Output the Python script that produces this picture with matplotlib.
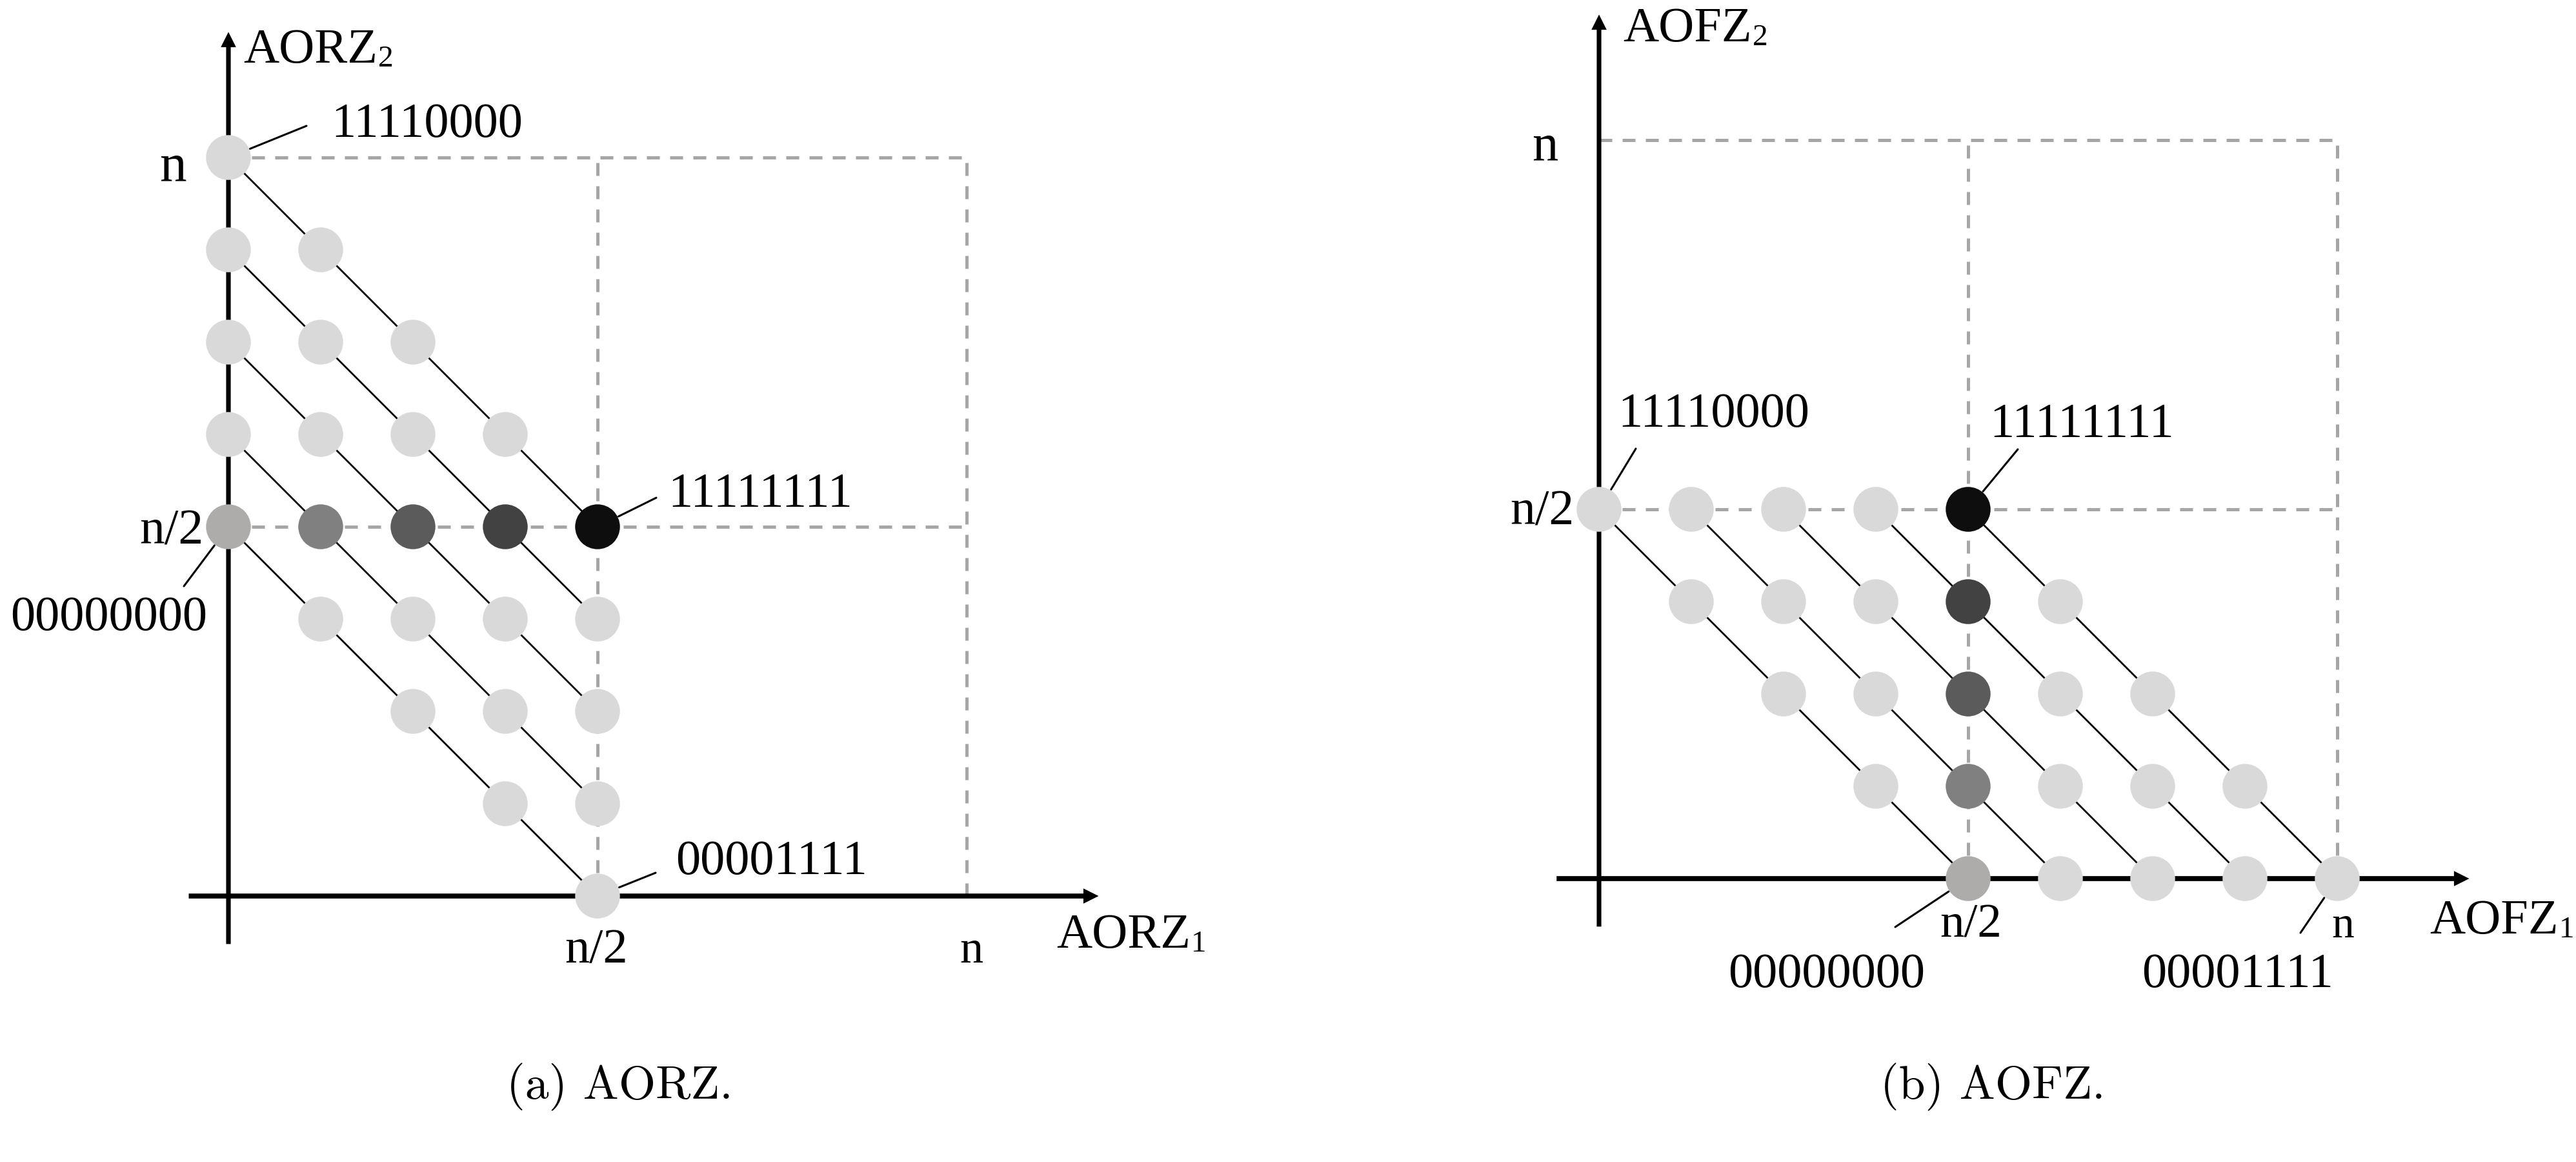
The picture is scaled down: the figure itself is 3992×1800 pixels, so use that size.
import matplotlib.pyplot as plt

# ---------------- data (n = 8 bits) ----------------
N = 8

# (a) AORZ: zone points, shade rank 0 = plain, 1..5 = darker highlight
aorz_x = [0, 0, 1, 0, 1, 2, 0, 1, 2, 3, 0, 1, 2, 3, 4, 1, 2, 3, 4, 2, 3, 4, 3, 4, 4]
aorz_y = [8, 7, 7, 6, 6, 6, 5, 5, 5, 5, 4, 4, 4, 4, 4, 3, 3, 3, 3, 2, 2, 2, 1, 1, 0]
aorz_shade = [0, 0, 0, 0, 0, 0, 0, 0, 0, 0, 1, 2, 3, 4, 5, 0, 0, 0, 0, 0, 0, 0, 0, 0, 0]
aorz_line_x0 = [0, 0, 0, 0, 0]
aorz_line_y0 = [8, 7, 6, 5, 4]
aorz_line_x1 = [4, 4, 4, 4, 4]
aorz_line_y1 = [4, 3, 2, 1, 0]
aorz_tags = ["11110000", "11111111", "00000000", "00001111"]
aorz_tag_x = [0, 4, 0, 4]
aorz_tag_y = [8, 4, 4, 0]

# (b) AOFZ
aofz_x = [0, 1, 2, 3, 4, 1, 2, 3, 4, 5, 2, 3, 4, 5, 6, 3, 4, 5, 6, 7, 4, 5, 6, 7, 8]
aofz_y = [4, 4, 4, 4, 4, 3, 3, 3, 3, 3, 2, 2, 2, 2, 2, 1, 1, 1, 1, 1, 0, 0, 0, 0, 0]
aofz_shade = [0, 0, 0, 0, 5, 0, 0, 0, 4, 0, 0, 0, 3, 0, 0, 0, 2, 0, 0, 0, 1, 0, 0, 0, 0]
aofz_line_x0 = [0, 1, 2, 3, 4]
aofz_line_y0 = [4, 4, 4, 4, 4]
aofz_line_x1 = [4, 5, 6, 7, 8]
aofz_line_y1 = [0, 0, 0, 0, 0]
aofz_tags = ["11110000", "11111111", "00000000", "00001111"]
aofz_tag_x = [0, 4, 4, 8]
aofz_tag_y = [4, 4, 0, 0]

tick_vals = [N / 2, N]
tick_text = ["n/2", "n"]
guide_vals = [N / 2, N]

# ---------------- style / layout ----------------
W, H, DPI = 3992, 1800, 100
U = 143.0  # pixels per unit
SHADES = ["#d9d9d9", "#aeabab", "#808080", "#5b5b5b", "#424242", "#0e0e0e"]
GUIDE = "#a6a6a6"
SERIF = ["Liberation Serif", "DejaVu Serif"]
TAG_FS = 55

plt.rcParams["font.family"] = SERIF

fig = plt.figure(figsize=(W / DPI, H / DPI), dpi=DPI)


def make_axes(origin_px, xlim, ylim):
    ox, oy = origin_px
    left = (ox + xlim[0] * U) / W
    bottom = (H - oy + ylim[0] * U) / H
    ax = fig.add_axes([left, bottom, (xlim[1] - xlim[0]) * U / W, (ylim[1] - ylim[0]) * U / H])
    ax.set_xlim(*xlim)
    ax.set_ylim(*ylim)
    ax.axis("off")
    return ax


def draw_panel(ax, xs, ys, shade, lx0, ly0, lx1, ly1, tags, tx, ty, cfg):
    # dashed guides
    for v in guide_vals:
        ax.plot([0, N], [v, v], color=GUIDE, lw=3.6, ls=(0, (4, 3.2)), zorder=1, clip_on=False)
        ax.plot([v, v], [0, N], color=GUIDE, lw=3.6, ls=(0, (4, 3.2)), zorder=1, clip_on=False)

    # axes with arrows
    x0, x1 = cfg["xaxis"]
    y0, y1 = cfg["yaxis"]
    ax.arrow(x0, 0, x1 - x0, 0, width=0.054, head_width=0.165, head_length=0.165,
             length_includes_head=True, fc="black", ec="none", zorder=2, clip_on=False)
    ax.arrow(0, y0, 0, y1 - y0, width=0.05, head_width=0.165, head_length=0.165,
             length_includes_head=True, fc="black", ec="none", zorder=2, clip_on=False)

    # diagonal iso-lines
    for a, b, c, d in zip(lx0, ly0, lx1, ly1):
        ax.plot([a, c], [b, d], color="black", lw=2.0, zorder=2, clip_on=False)

    # zone points
    ax.scatter(xs, ys, s=50 ** 2, c=[SHADES[k] for k in shade], linewidths=0, zorder=3, clip_on=False)

    # tags with leader lines
    for label, px, py, (lead, txt, ha) in zip(tags, tx, ty, cfg["tags"]):
        ax.annotate("", xy=(px, py), xytext=lead, textcoords="offset pixels",
                    arrowprops=dict(arrowstyle="-", lw=2.2, color="black", shrinkA=0, shrinkB=26))
        ax.annotate(label, xy=(px, py), xytext=txt, textcoords="offset pixels",
                    ha=ha, va="baseline", fontsize=TAG_FS)

    # tick labels
    for v, t, (dx, dy), fs in zip(tick_vals, tick_text, cfg["xticks"], cfg["xtick_fs"]):
        ax.annotate(t, xy=(v, 0), xytext=(dx, dy), textcoords="offset pixels",
                    ha="center", va="baseline", fontsize=fs)
    for v, t, (dx, dy), fs in zip(tick_vals, tick_text, cfg["yticks"], cfg["ytick_fs"]):
        ax.annotate(t, xy=(0, v), xytext=(dx, dy), textcoords="offset pixels",
                    ha="right", va="baseline", fontsize=fs)

    # axis names with subscripts
    for (name, sub), off in zip(cfg["names"], cfg["name_offsets"]):
        main = ax.annotate(name, xy=(0, 0), xytext=off, textcoords="offset pixels",
                           ha="left", va="baseline", fontsize=TAG_FS)
        ax.annotate(sub, xy=(1, 0), xycoords=main, xytext=(1, 10), textcoords="offset pixels",
                    ha="left", va="baseline", fontsize=34)


ax_a = make_axes((354, 1388), (-2.4, 10.6), (-1.6, 9.6))
draw_panel(ax_a, aorz_x, aorz_y, aorz_shade,
           aorz_line_x0, aorz_line_y0, aorz_line_x1, aorz_line_y1,
           aorz_tags, aorz_tag_x, aorz_tag_y,
           dict(xaxis=(-0.43, 9.43), yaxis=(-0.52, 9.36),
                tags=[((121, 49), (159, 32), "left"),
                      ((91, 45), (109, 31), "left"),
                      ((-69, -92), (-33, -160), "right"),
                      ((90, 36), (121, 34), "left")],
                xticks=[(-2, -103), (7, -103)], xtick_fs=[55, 52],
                yticks=[(-39, -26), (-65, -35)], ytick_fs=[56, 60],
                names=[("AORZ", "1"), ("AORZ", "2")],
                name_offsets=[(1283, -80), (23, 1291)]))

ax_b = make_axes((2478, 1361), (-2.4, 10.5), (-1.6, 9.5))
draw_panel(ax_b, aofz_x, aofz_y, aofz_shade,
           aofz_line_x0, aofz_line_y0, aofz_line_x1, aofz_line_y1,
           aofz_tags, aofz_tag_x, aofz_tag_y,
           dict(xaxis=(-0.46, 9.43), yaxis=(-0.52, 9.36),
                tags=[((57, 94), (29, 128), "left"),
                      ((77, 93), (33, 112), "left"),
                      ((-113, -75), (-67, -168), "right"),
                      ((-57, -84), (-6, -168), "right")],
                xticks=[(4, -91), (9, -91)], xtick_fs=[54, 50],
                yticks=[(-39, -24), (-64, -30)], ytick_fs=[56, 58],
                names=[("AOFZ", "1"), ("AOFZ", "2")],
                name_offsets=[(1287, -85), (37, 1297)]))

# captions
fig.text(0.2405, 0.0544, "(a) AORZ.", family="cmr10", fontsize=53, ha="center", va="baseline")
fig.text(0.7735, 0.0544, "(b) AOFZ.", family="cmr10", fontsize=53, ha="center", va="baseline")

fig.savefig("out.png", dpi=DPI, facecolor="white")
